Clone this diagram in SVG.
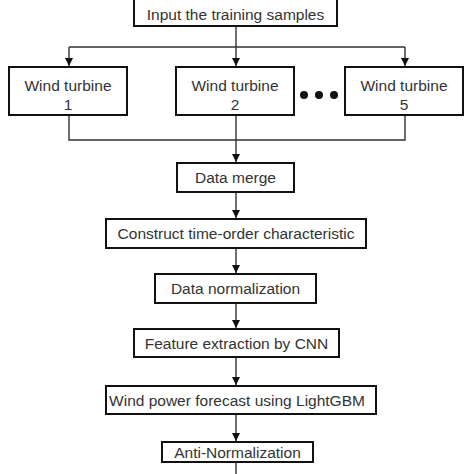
<svg xmlns="http://www.w3.org/2000/svg" width="474" height="474" viewBox="0 0 474 474">
<style>
.box{fill:#fff;stroke:#111;stroke-width:2}
.t{font-family:"Liberation Sans",Arial,sans-serif;font-size:15.5px;fill:#333;text-anchor:middle}
.c{fill:none;stroke:#333;stroke-width:1.4}
</style>
<defs>
<marker id="ah" viewBox="0 0 10 10" refX="10" refY="5" markerWidth="8" markerHeight="8" markerUnits="userSpaceOnUse" orient="auto">
<path d="M0,0 L10,5 L0,10 z" fill="#111"/>
</marker>
</defs>
<rect width="474" height="474" fill="#fff"/>
<g id="connectors">
<path class="c" d="M236,27 V47 M69,47 H405"/>
<path class="c" d="M69,47 V66" marker-end="url(#ah)"/>
<path class="c" d="M236,47 V66" marker-end="url(#ah)"/>
<path class="c" d="M405,47 V66" marker-end="url(#ah)"/>
<path class="c" d="M69,116 V140 H405 V116 M236,116 V140"/>
<path class="c" d="M236,140 V162" marker-end="url(#ah)"/>
<path class="c" d="M236,193 V218" marker-end="url(#ah)"/>
<path class="c" d="M236,249 V273" marker-end="url(#ah)"/>
<path class="c" d="M236,304 V328" marker-end="url(#ah)"/>
<path class="c" d="M236,358 V385" marker-end="url(#ah)"/>
<path class="c" d="M236,415 V441" marker-end="url(#ah)"/>
<path class="c" d="M236,463 V474"/>
</g>
<g id="input"><rect class="box" x="134" y="-1" width="203" height="27"/><text class="t" x="235.5" y="19.5">Input the training samples</text></g>
<g id="wt1"><rect class="box" x="9" y="67" width="118" height="48"/><text class="t" x="68" y="90.5">Wind turbine</text><text class="t" x="68" y="110">1</text></g>
<g id="wt2"><rect class="box" x="176" y="67" width="118" height="48"/><text class="t" x="235" y="90.5">Wind turbine</text><text class="t" x="235" y="110">2</text></g>
<g id="dots"><circle cx="304" cy="95" r="4" fill="#111"/><circle cx="319" cy="95" r="4" fill="#111"/><circle cx="334" cy="95" r="4" fill="#111"/></g>
<g id="wt5"><rect class="box" x="345" y="67" width="118" height="48"/><text class="t" x="404" y="90.5">Wind turbine</text><text class="t" x="404" y="110">5</text></g>
<g id="merge"><rect class="box" x="177" y="163" width="117" height="29"/><text class="t" x="235.5" y="183">Data merge</text></g>
<g id="construct"><rect class="box" x="106" y="219" width="260" height="29"/><text class="t" x="236" y="239">Construct time-order characteristic</text></g>
<g id="norm"><rect class="box" x="155" y="274" width="161" height="29"/><text class="t" x="235.5" y="294">Data normalization</text></g>
<g id="feature"><rect class="box" x="134" y="329" width="205" height="28"/><text class="t" x="236.5" y="348.5">Feature extraction by CNN</text></g>
<g id="forecast"><rect class="box" x="106" y="386" width="270" height="28"/><text class="t" x="237" y="405.5">Wind power forecast using LightGBM</text></g>
<g id="anti"><rect class="box" x="162" y="442" width="151" height="20"/><text class="t" x="237.5" y="457.5">Anti-Normalization</text></g>
</svg>
